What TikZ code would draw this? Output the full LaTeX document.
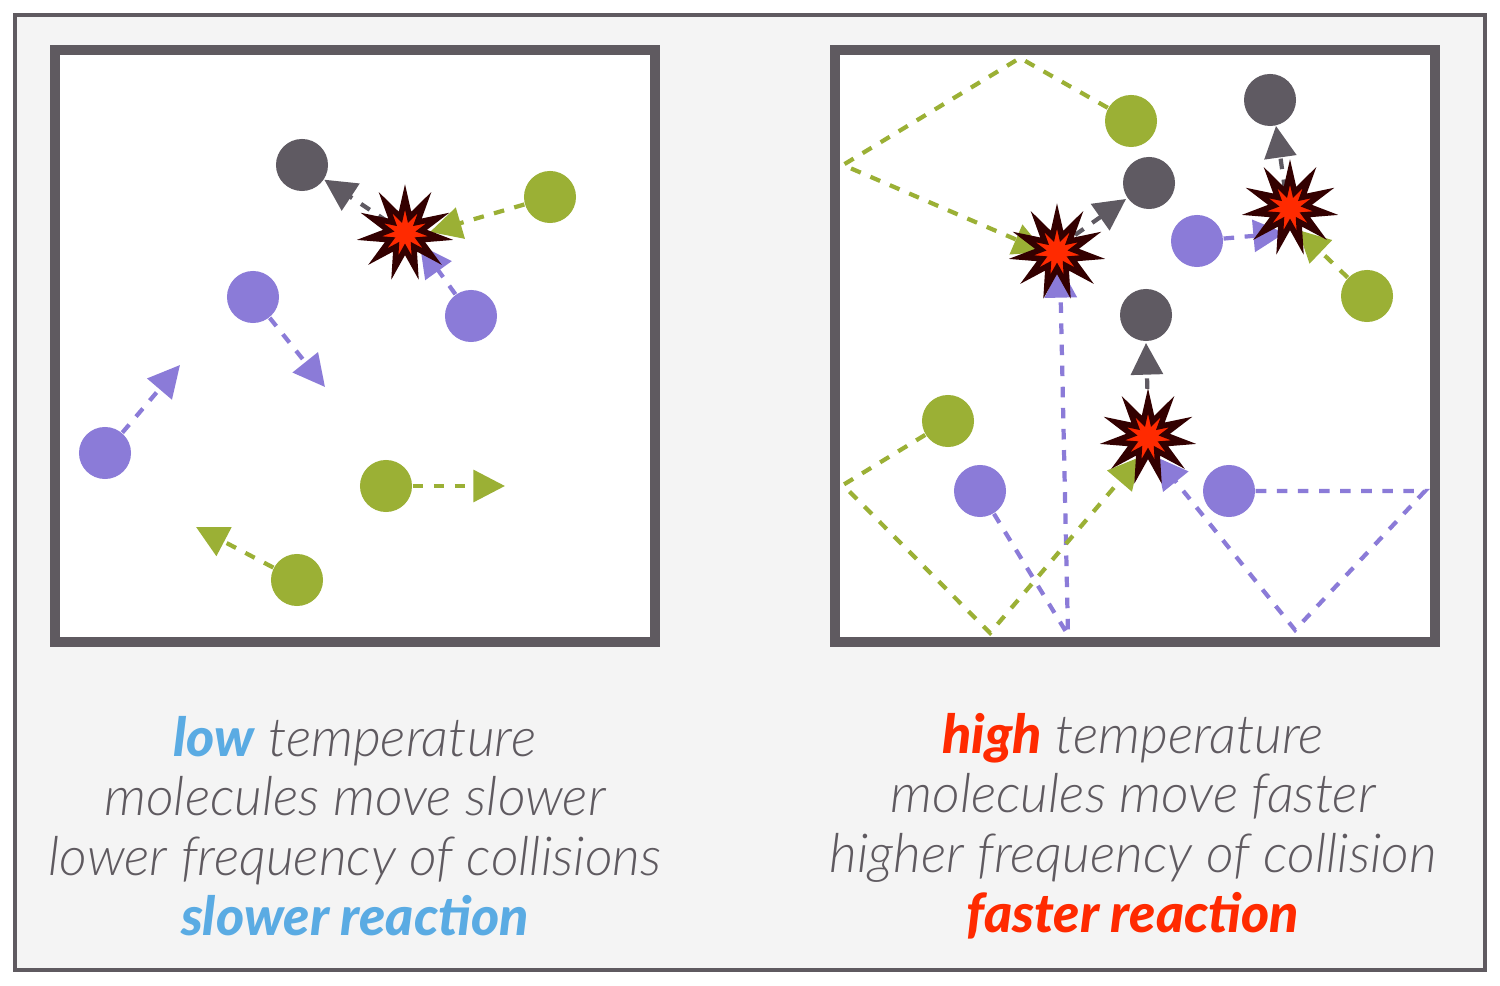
\documentclass[tikz,border=0pt]{standalone}
\usepackage{fontspec}
\setmainfont{Lato}[UprightFont=* Light, ItalicFont=* Light Italic, BoldFont=* Black, BoldItalicFont=* Black Italic]
\usetikzlibrary{shapes.geometric, arrows.meta, positioning}
\definecolor{frame}{HTML}{5F5A60}
\definecolor{bgpanel}{HTML}{F4F4F4}
\definecolor{molgray}{HTML}{5F5A62}
\definecolor{molgreen}{HTML}{9BB035}
\definecolor{molpurple}{HTML}{8B7BD8}
\definecolor{hotred}{HTML}{FF2A00}
\definecolor{coldblue}{HTML}{5AABE3}
\definecolor{txtgray}{HTML}{5F5A60}
\tikzset{
    mol/.style={circle, minimum size=0.52cm, inner sep=0pt},
    gmol/.style={mol, fill=molgray},
    vmol/.style={mol, fill=molgreen},
    pmol/.style={mol, fill=molpurple},
    boom/.style={star, star points=11, star point ratio=2.2, minimum size=0.72cm, inner sep=0pt, fill=hotred, draw=black!80!red, line width=1.6pt},
    path/.style={dashed, dash pattern=on 3pt off 3pt, line width=1.2pt},
    move/.style={path, -{Triangle[length=9pt,width=9pt]}},
    box/.style={draw=frame, line width=2.8pt, fill=white},
    caption/.style={align=center, text=txtgray, font=\itshape\fontsize{15.3}{17}\selectfont}
}
\begin{document}
\begin{tikzpicture}[x=0.01cm, y=-0.01cm]
    \useasboundingbox (0,0) rectangle (1500,986);
    \draw[frame, line width=0.9pt, fill=bgpanel] (15,15) rectangle (1485,970);

    % Boxes
    \draw[box] (55,50) rectangle (655,642);
    \draw[box] (835,50) rectangle (1435,642);

    % Left: low temperature
    \node (lgray) [gmol] at (302,165) {};
    \node (lgreen1) [vmol] at (550,197) {};
    \node (lpurple1) [pmol] at (471,316) {};
    \node (lpurple2) [pmol] at (253,297) {};
    \node (lpurple3) [pmol] at (105,453) {};
    \node (lgreen2) [vmol] at (386,486) {};
    \node (lgreen3) [vmol] at (297,580) {};
    \coordinate (lstarc) at (405,233);
    \coordinate (lp2end) at (325,387);
    \coordinate (lp3end) at (180,365);
    \coordinate (lg2end) at (505,486);
    \coordinate (lg3end) at (196,527);
    \draw[move, molgray] (lstarc) -- (lgray);
    \draw[move, molgreen] (lgreen1) -- (430,232);
    \draw[move, molpurple] (lpurple1) -- (420,245);
    \draw[move, molpurple] (lpurple2) -- (lp2end);
    \draw[move, molpurple] (lpurple3) -- (lp3end);
    \draw[move, molgreen] (lgreen2) -- (lg2end);
    \draw[move, molgreen] (lgreen3) -- (lg3end);
    \node (lstar) [boom] at (lstarc) {};

    % Right: high temperature
    \node (rgreen1) [vmol] at (1131,121) {};
    \node (rgray1) [gmol] at (1149,183) {};
    \node (rgray2) [gmol] at (1270,100) {};
    \node (rpurple1) [pmol] at (1197,241) {};
    \node (rgreen2) [vmol] at (1367,296) {};
    \node (rgray3) [gmol] at (1146,315) {};
    \node (rgreen3) [vmol] at (948,421) {};
    \node (rpurple2) [pmol] at (980,491) {};
    \node (rpurple3) [pmol] at (1229,491) {};
    \coordinate (b1) at (1020,58);
    \coordinate (b2) at (843,165);
    \coordinate (b3) at (1068,635);
    \coordinate (b4) at (843,485);
    \coordinate (b5) at (990,633);
    \coordinate (b6) at (1425,491);
    \coordinate (b7) at (1295,630);
    \draw[move, molgreen] (rgreen1) -- (b1) -- (b2) -- (1045,252);
    \draw[move, molpurple] (rpurple2) -- (b3) -- (1060,266);
    \draw[move, molgray] (1075,235) -- (1126,199);
    \draw[move, molgray] (1285,190) -- (1276,126);
    \draw[move, molpurple] (rpurple1) -- (1285,233);
    \draw[move, molgreen] (rgreen2) -- (1298,230);
    \draw[move, molgray] (1148,410) -- (1146,343);
    \draw[move, molgreen] (rgreen3) -- (b4) -- (b5) -- (1140,457);
    \draw[move, molpurple] (rpurple3) -- (b6) -- (b7) -- (1156,457);
    \node (rstar1) [boom] at (1057,252) {};
    \node (rstar2) [boom] at (1290,208) {};
    \node (rstar3) [boom] at (1148,437) {};

    % Captions
    \node (lcap) [caption] at (355,826) {{\bfseries\color{coldblue}low} temperature\\molecules move slower\\lower frequency of collisions\\{\bfseries\color{coldblue}slower reaction}};
    \node (rcap) [caption] at (1133,826) {{\bfseries\color{hotred}high} temperature\\molecules move faster\\higher frequency of collision\\{\bfseries\color{hotred}faster reaction}};
\end{tikzpicture}
\end{document}
